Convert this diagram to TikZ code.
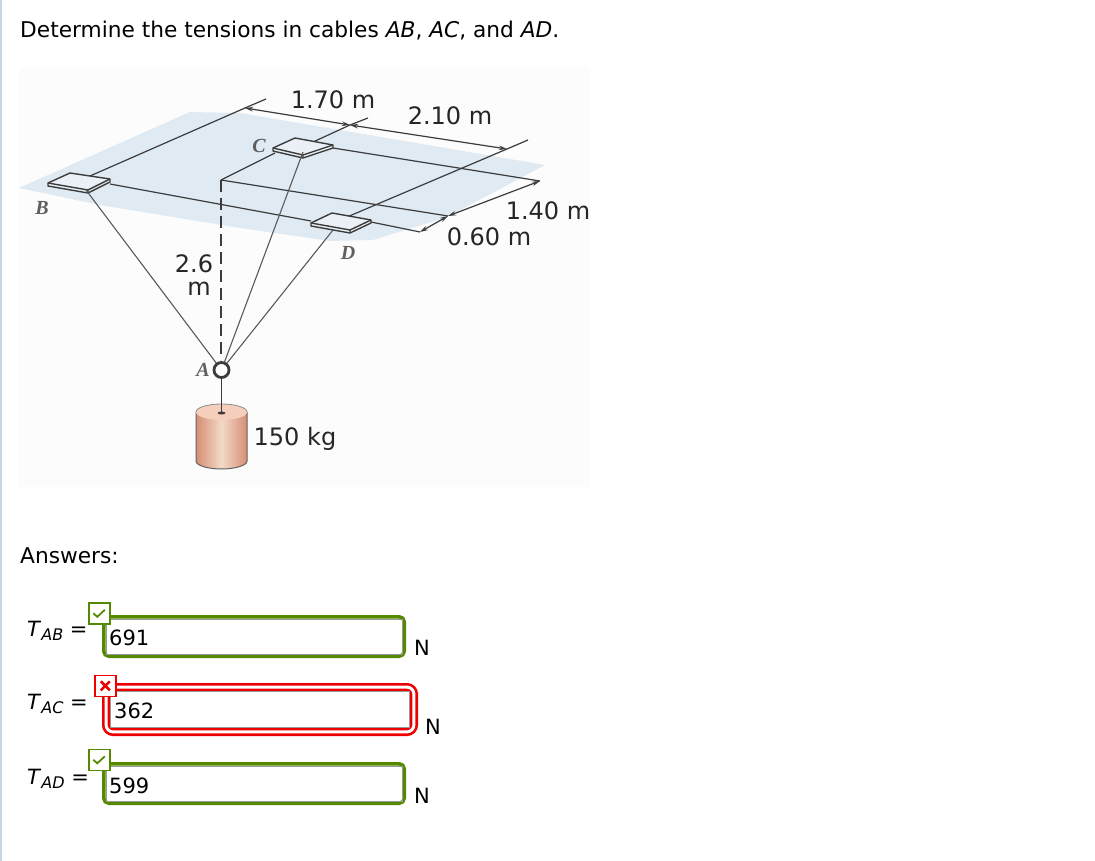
\documentclass[tikz,border=0pt]{standalone}
\usepackage{fontspec}
\setmainfont{DejaVu Sans}
\newfontfamily\labelfont{Liberation Serif}
\usetikzlibrary{calc}
\usetikzlibrary{arrows.meta}
\definecolor{okgreen}{HTML}{558A00}
\definecolor{badred}{HTML}{EE0000}
\definecolor{planeblue}{HTML}{DFEAF3}
\definecolor{plateblue}{HTML}{EAF0F5}
\definecolor{edgeblue}{HTML}{C9D6E9}
\definecolor{linegray}{HTML}{3C3C3C}
\definecolor{pointgray}{HTML}{5F5F5F}
\definecolor{innergray}{HTML}{999999}
\definecolor{weightdark}{HTML}{D58E74}
\definecolor{weightlight}{HTML}{F3D9C8}
\definecolor{weighttop}{HTML}{F6CFBC}
\tikzset{
  dimline/.style={draw=linegray,line width=1.2pt},
  dimarrow/.style={dimline,{Stealth[length=8pt,width=4.5pt]}-{Stealth[length=8pt,width=4.5pt]}},
  cable/.style={draw=linegray!85,line width=1.1pt},
  plate/.style={draw=linegray,line width=1.4pt,fill=plateblue,line join=round},
  pointlabel/.style={font=\labelfont\bfseries\itshape\fontsize{20}{20}\selectfont,text=pointgray,inner sep=0pt},
  dimlabel/.style={font=\fontsize{24}{24}\selectfont,text=black!85,inner sep=0pt},
  bodytext/.style={font=\fontsize{21.7}{22}\selectfont,inner sep=0pt,anchor=base west},
  answer/.style={font=\fontsize{21}{21}\selectfont,inner sep=0pt,anchor=base west},
  okbox/.style={draw=okgreen,line width=3.5pt,rounded corners=5pt,minimum width=300.5pt,minimum height=39.5pt,inner sep=0pt,anchor=north west},
  badbox/.style={draw=badred,double=white,double distance=3pt,line width=2.6pt,rounded corners=7pt,minimum width=307.8pt,minimum height=44.8pt,inner sep=0pt,anchor=north west},
  innerbox/.style={draw=innergray,line width=0.8pt},
  okmark/.style={draw=okgreen,fill=white,line width=1.6pt,minimum size=21pt,inner sep=0pt,anchor=north west},
  badmark/.style={draw=badred,fill=white,line width=1.6pt,minimum size=21pt,inner sep=0pt,anchor=north west}
}
\begin{document}
\begin{tikzpicture}[x=1pt,y=-1pt]

\useasboundingbox (0,0) rectangle (1095,861);
\fill[white] (0,0) rectangle (1095,861);
\fill[edgeblue] (0,0) rectangle (1.5,861);
\fill[black!1] (19,68) rectangle (590,487);

% anchor points of the sketch
\coordinate (A) at (221.5,370);
\coordinate (B) at (86,190);
\coordinate (C) at (303,152);
\coordinate (D) at (333,230);
\coordinate (P) at (221,180);
\coordinate (E) at (245,108);
\coordinate (F) at (350,125);
\coordinate (G) at (507,149);
\coordinate (H) at (540,181);
\coordinate (I) at (448,216);
\coordinate (J) at (420,232);

% plane
\fill[planeblue] (19,188) -- (190,112) -- (240,113) -- (545,165) -- (447,217) -- (373,240) -- (330,241) -- (240,228) -- (100,205) -- cycle;

% dimension lines
\draw[dimline] (90,176) -- (E) -- (266,99);
\draw[dimline] (313,142) -- (F) -- (368,118);
\draw[dimline] (340,220) -- (G) -- (528,140);
\draw[dimline] (333,148) -- (H);
\draw[dimline] (110,184) -- (311,221);
\draw[dimline] (371,222) -- (J);
\draw[dimline] (P) -- (I);
\draw[dimline] (P) -- (275,153);
\draw[dimarrow] (E) -- (F);
\draw[dimarrow] (F) -- (G);
\draw[dimarrow] (J) -- (I);
\draw[dimarrow] (I) -- (H);
\draw[draw=linegray,line width=1.2pt,dash pattern=on 12pt off 6pt] (P) -- (221,360);

% plates
\draw[plate] (48,186) -- (48,183) -- (70,173) -- (110,179) -- (110,182) -- (88,193) -- cycle;
\draw[linegray,line width=1.4pt] (48,183) -- (88,190) -- (110,179) (88,190) -- (88,193);
\draw[plate] (273,151) -- (273,148) -- (295,138) -- (333,145) -- (333,148) -- (303,158) -- cycle;
\draw[linegray,line width=1.4pt] (273,148) -- (303,155) -- (333,145) (303,155) -- (303,158);
\draw[plate] (311,226) -- (311,223) -- (332,213) -- (371,220) -- (371,223) -- (350,233) -- cycle;
\draw[linegray,line width=1.4pt] (311,223) -- (350,230) -- (371,220) (350,230) -- (350,233);

% cables
\draw[cable] (B) -- (A);
\draw[cable] (C) -- (A);
\draw[cable] (D) -- (A);

% weight
\coordinate (W) at (221.5,413);
\shade[left color=weightdark,right color=weightdark,middle color=weightlight] (196,412) -- (196,461) arc[start angle=180,end angle=360,x radius=25.5,y radius=-8] -- (247,412) -- cycle;
\draw[linegray!80,line width=1pt] (196,412) -- (196,461) arc[start angle=180,end angle=360,x radius=25.5,y radius=-8] -- (247,412);
\fill[weighttop] (221.5,412) ellipse[x radius=25.5,y radius=8];
\draw[linegray!60,line width=0.8pt] (196,412) arc[start angle=180,end angle=0,x radius=25.5,y radius=-8];
\draw[linegray,line width=1.2pt] (A) -- (W);
\fill[linegray] (W) ellipse[x radius=4,y radius=1.5];
\draw[draw=linegray,fill=white,line width=2.8pt] (A) circle (7.5);

% labels of the sketch
\node[pointlabel] (labelB) at (42,208) {B};
\node[pointlabel] (labelC) at (259,146) {C};
\node[pointlabel] (labelD) at (348,253) {D};
\node[pointlabel] (labelA) at (203,370) {A};
\node[dimlabel] (len1) at (333,100) {1.70 m};
\node[dimlabel] (len2) at (450,116) {2.10 m};
\node[dimlabel] (len3) at (548,211) {1.40 m};
\node[dimlabel] (len4) at (489,237) {0.60 m};
\node[dimlabel] (len5) at (194,264) {2.6};
\node[dimlabel] (len6) at (199,289) {m};
\node[dimlabel] (mass) at (295,439) {150 kg};

% text
\node[bodytext] (question) at (20,38) {Determine the tensions in cables \textit{AB}, \textit{AC}, and \textit{AD}.};
\node[bodytext] (answers) at (20,563) {Answers:};

% answer boxes
\node[okbox] (boxAB) at (102,615) {};
\draw[innerbox] (boxAB.north west) ++(3.9,3.9) rectangle ($(boxAB.south east)+(-3.9,-3.9)$);
\node[okmark] (markAB) at (88,602) {};
\draw[okgreen,line width=1.8pt] ($(markAB.center)+(-6,0)$) -- ($(markAB.center)+(-2,3.5)$) -- ($(markAB.center)+(5.5,-3.5)$);
\node[answer] (valAB) at (109,645) {691};
\node[answer] (nameAB) at (27,636) {\textit{T}\raisebox{-4pt}{\fontsize{16}{16}\selectfont\textit{AB}} =};
\node[answer] (unitAB) at (414,655) {N};

\node[badbox] (boxAC) at (104.8,685.8) {};
\draw[innerbox] (boxAC.north west) ++(5.8,5.8) rectangle ($(boxAC.south east)+(-5.8,-5.8)$);
\node[badmark] (markAC) at (94,674.5) {};
\draw[badred,line width=2.6pt] ($(markAC.center)+(-4.5,-4.5)$) -- ($(markAC.center)+(4.5,4.5)$) ($(markAC.center)+(-4.5,4.5)$) -- ($(markAC.center)+(4.5,-4.5)$);
\node[answer] (valAC) at (114,718) {362};
\node[answer] (nameAC) at (27,709) {\textit{T}\raisebox{-4pt}{\fontsize{16}{16}\selectfont\textit{AC}} =};
\node[answer] (unitAC) at (425,734) {N};

\node[okbox] (boxAD) at (102,762) {};
\draw[innerbox] (boxAD.north west) ++(3.9,3.9) rectangle ($(boxAD.south east)+(-3.9,-3.9)$);
\node[okmark] (markAD) at (88,748.5) {};
\draw[okgreen,line width=1.8pt] ($(markAD.center)+(-6,0)$) -- ($(markAD.center)+(-2,3.5)$) -- ($(markAD.center)+(5.5,-3.5)$);
\node[answer] (valAD) at (109,793) {599};
\node[answer] (nameAD) at (27,784) {\textit{T}\raisebox{-4pt}{\fontsize{16}{16}\selectfont\textit{AD}} =};
\node[answer] (unitAD) at (414,803) {N};

\end{tikzpicture}
\end{document}
